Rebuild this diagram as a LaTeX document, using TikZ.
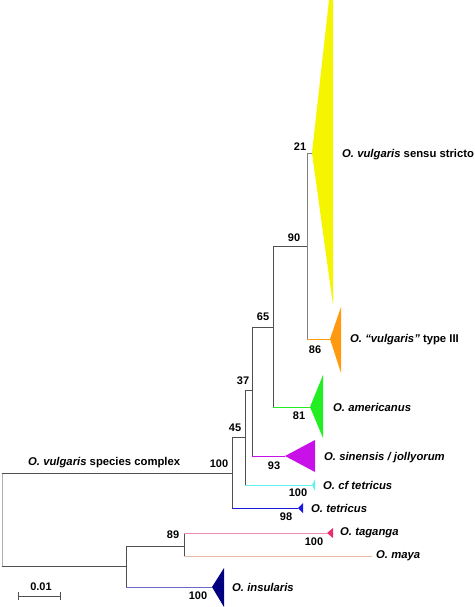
\documentclass[tikz,border=0pt]{standalone}
\usepackage{fontspec}
\setmainfont{Liberation Sans}
\definecolor{treeline}{HTML}{505050}
\definecolor{rootline}{HTML}{B0B0B0}
\definecolor{cyel}{HTML}{F5F500}
\definecolor{corange}{HTML}{FF9910}
\definecolor{cgreen}{HTML}{22EE22}
\definecolor{cmag}{HTML}{C810E8}
\definecolor{ccyan}{HTML}{60F0F0}
\definecolor{cblue}{HTML}{1818E0}
\definecolor{cpinkl}{HTML}{F08CB0}
\definecolor{cpink}{HTML}{E8306E}
\definecolor{ctan}{HTML}{E8B8A8}
\definecolor{cinsl}{HTML}{6868C8}
\definecolor{cnavy}{HTML}{000080}
\begin{document}
\begin{tikzpicture}[x=1pt,y=-1pt,
  br/.style={draw=treeline,line width=0.9pt},
  taxon/.style={anchor=west,inner sep=0pt,font=\fontsize{11.3}{13}\selectfont\bfseries},
  supp/.style={inner sep=0pt,font=\fontsize{11}{13}\selectfont\bfseries}]
\useasboundingbox (0,0) rectangle (474,607);
% internal nodes
\coordinate (root) at (2,473);
\coordinate (rootb) at (2,566);
\coordinate (n100) at (232,473);
\coordinate (n100t) at (232,437);
\coordinate (n100b) at (232,508);
\coordinate (n45) at (245,437);
\coordinate (n45t) at (245,390);
\coordinate (n45b) at (245,485);
\coordinate (n37) at (252,390);
\coordinate (n37t) at (252,327);
\coordinate (n37b) at (252,456);
\coordinate (n65) at (273,327);
\coordinate (n65t) at (273,246);
\coordinate (n65b) at (273,407);
\coordinate (n90) at (307,246);
\coordinate (n90t) at (307,153);
\coordinate (n90b) at (307,339);
\coordinate (og) at (126,566);
\coordinate (ogt) at (126,546);
\coordinate (ogb) at (126,587);
\coordinate (n89) at (184,546);
\coordinate (n89t) at (184,533);
\coordinate (n89b) at (184,556);
% tips
\coordinate (tyel) at (312,153);
\coordinate (tora) at (330,339);
\coordinate (tgre) at (310,407);
\coordinate (tmag) at (285,456);
\coordinate (tcya) at (312,485);
\coordinate (tblu) at (298,508);
\coordinate (tpin) at (327,533);
\coordinate (tmay) at (372,556);
\coordinate (tins) at (212,587);
% root and tree lines
\draw[draw=rootline,line width=0.9pt] (root) -- (rootb);
\draw[br] (root) -- (n100);
\draw[br] (n100t) -- (n100b);
\draw[br] (n100t) -- (n45);
\draw[br] (n45t) -- (n45b);
\draw[br] (n45t) -- (n37);
\draw[br] (n37t) -- (n37b);
\draw[br] (n37t) -- (n65);
\draw[br] (n65t) -- (n65b);
\draw[br] (n65t) -- (n90);
\draw[br,draw=gray] (n90t) -- (n90b);
\draw[br,draw=gray] (n90t) -- (tyel);
\draw[br,draw=corange] (n90b) -- (tora);
\draw[br,draw=cgreen] (n65b) -- (tgre);
\draw[br,draw=cmag] (n37b) -- (tmag);
\draw[br,draw=ccyan] (n45b) -- (tcya);
\draw[br,draw=cblue] (n100b) -- (tblu);
\draw[br] (rootb) -- (og);
\draw[br] (ogt) -- (ogb);
\draw[br] (ogt) -- (n89);
\draw[br] (n89t) -- (n89b);
\draw[br,draw=cpinkl] (n89t) -- (tpin);
\draw[br,draw=ctan] (n89b) -- (tmay);
\draw[br,draw=cinsl] (ogb) -- (tins);
% collapsed clades
\fill[cyel] (tyel) -- (329,0) -- (333,0) -- (333,305) -- cycle;
\fill[corange] (tora) -- (341,307) -- (341,373) -- cycle;
\fill[cgreen] (tgre) -- (323,375) -- (323,438) -- cycle;
\fill[cmag] (tmag) -- (315,440) -- (315,472) -- cycle;
\fill[ccyan] (tcya) -- (315,479) -- (315,491) -- cycle;
\fill[cblue] (tblu) -- (303,503) -- (303,513) -- cycle;
\fill[cpink] (tpin) -- (333,528) -- (333,538) -- cycle;
\fill[cnavy] (tins) -- (224,568) -- (224,607) -- cycle;
% taxon labels
\node[taxon] (lss) at (342,155) {\textit{O. vulgaris} sensu stricto};
\node[taxon] (lt3) at (350,340) {\textit{O. “vulgaris”} type III};
\node[taxon] (lam) at (333,407) {\textit{O. americanus}};
\node[taxon] (lsi) at (324,458) {\textit{O. sinensis / jollyorum}};
\node[taxon] (lcf) at (323,485) {\textit{O. cf tetricus}};
\node[taxon] (lte) at (311,508) {\textit{O. tetricus}};
\node[taxon] (lta) at (340,533) {\textit{O. taganga}};
\node[taxon] (lma) at (376,556) {\textit{O. maya}};
\node[taxon] (lin) at (232,587) {\textit{O. insularis}};
\node[taxon] (lco) at (28,463) {\textit{O. vulgaris} species complex};
% support values
\node[supp] (s21) at (300,147) {21};
\node[supp] (s90) at (294,238) {90};
\node[supp] (s86) at (315,350) {86};
\node[supp] (s65) at (263,317) {65};
\node[supp] (s37) at (243,381) {37};
\node[supp] (s45) at (235,428) {45};
\node[supp] (s100a) at (219,464) {100};
\node[supp] (s81) at (299,416) {81};
\node[supp] (s93) at (274,466) {93};
\node[supp] (s100b) at (298,493) {100};
\node[supp] (s98) at (286,517) {98};
\node[supp] (s89) at (173,535) {89};
\node[supp] (s100c) at (314,542) {100};
\node[supp] (s100d) at (198,596) {100};
% scale bar
\coordinate (sb1) at (18,596);
\coordinate (sb2) at (60,596);
\draw[treeline,line width=0.8pt] (sb1) -- (sb2);
\draw[treeline,line width=0.8pt] ([yshift=-4pt]sb1) -- ([yshift=4pt]sb1);
\draw[treeline,line width=0.8pt] ([yshift=-4pt]sb2) -- ([yshift=4pt]sb2);
\node[supp] (ssb) at (41,587) {0.01};
\end{tikzpicture}
\end{document}
